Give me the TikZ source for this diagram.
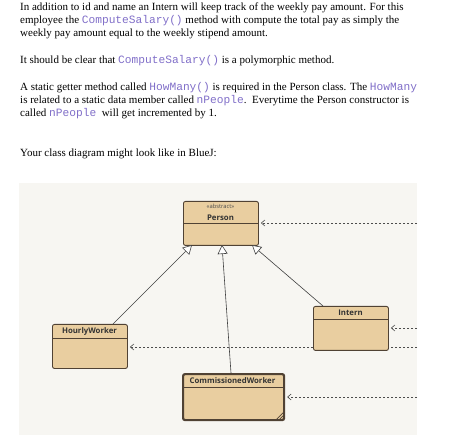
\documentclass[tikz,border=0pt]{standalone}
\usepackage{fontspec}
\setmainfont{Liberation Serif}
\newfontfamily\monof{Liberation Mono}
\newfontfamily\boxf{Open Sans}
\usetikzlibrary{arrows.meta,backgrounds,calc}
\definecolor{codecol}{RGB}{128,110,200}
\definecolor{panelcol}{RGB}{247,246,242}
\definecolor{boxfill}{RGB}{233,206,160}
\definecolor{boxline}{RGB}{80,66,52}
\newcommand{\cd}[1]{{\monof\fontsize{11.2}{12}\selectfont\color{codecol}#1}}
\tikzset{
  para/.style={anchor=base west, inner sep=0pt, font=\fontsize{11}{13}\selectfont},
  cls/.style={draw=boxline, line width=0.9pt, fill=boxfill, rounded corners=2pt, anchor=north west, inner sep=0pt},
  clstitle/.style={inner sep=0pt, font=\boxf\bfseries\fontsize{7.8}{9}\selectfont, text=black!80},
  stereo/.style={inner sep=0pt, font=\boxf\fontsize{5.8}{6}\selectfont, text=black!70},
  divider/.style={draw=boxline, line width=0.9pt},
  dep/.style={draw=black!70, line width=0.6pt, dash pattern=on 2.5pt off 1.5pt, -{Straight Barb[length=3.5pt,width=6pt]}, shorten >=2pt},
  inh/.style={draw=black!75, line width=0.6pt, -{Triangle[length=9pt,width=10pt,fill=white,line width=0.6pt]}}
}
\begin{document}
\begin{tikzpicture}[x=1pt,y=-1pt]
\useasboundingbox (0,0) rectangle (474,438);
% text
\node[para] (t1) at (20,11) {In addition to id and name an Intern will keep track of the weekly pay amount. For this};
\node[para] (t2) at (20,24) {employee the \cd{ComputeSalary()} method with compute the total pay as simply the};
\node[para] (t3) at (20,37) {weekly pay amount equal to the weekly stipend amount.};
\node[para] (t4) at (20,64) {It should be clear that \cd{ComputeSalary()} is a polymorphic method.};
\node[para] (t5) at (20,91) {A static getter method called \cd{HowMany()} is required in the Person class. The \cd{HowMany}};
\node[para] (t6) at (20,104) {is related to a static data member called \cd{nPeople}.\ \ Everytime the Person constructor is};
\node[para] (t7) at (20,117) {called \cd{nPeople}\ \ will get incremented by 1.};
\node[para] (t8) at (20,157) {Your class diagram might look like in BlueJ:};
% classes
\node[cls, minimum width=75pt, minimum height=44pt] (person) at (183,201) {};
\node[cls, minimum width=75pt, minimum height=44pt] (intern) at (313,306) {};
\node[cls, minimum width=75pt, minimum height=44pt] (hw) at (52,324) {};
\node[cls, line width=2.2pt, minimum width=101pt, minimum height=46pt] (cw) at (182,373) {};
\draw[divider] (person.west |- 0,223) -- (person.east |- 0,223);
\draw[divider] (intern.west |- 0,319) -- (intern.east |- 0,319);
\draw[divider] (hw.west |- 0,338) -- (hw.east |- 0,338);
\draw[divider] (cw.west |- 0,387) -- (cw.east |- 0,387);
\node[stereo] (pst) at (220.5,206.5) {«abstract»};
\node[clstitle] (pt) at (220.5,217.5) {Person};
\node[clstitle] (it) at (350.5,313) {Intern};
\node[clstitle] (ht) at (89.5,331) {HourlyWorker};
\node[clstitle] (ct) at (232.5,381) {CommissionedWorker};
% corner hatch
\draw[boxline, line width=0.6pt] ($(cw.south east)+(-9,-1.5)$) -- ($(cw.south east)+(-1.5,-9)$);
\draw[boxline, line width=0.6pt] ($(cw.south east)+(-6,-1.5)$) -- ($(cw.south east)+(-1.5,-6)$);
% inheritance
\coordinate (pl) at (192,245);
\coordinate (pm) at (222,245);
\coordinate (pr) at (252,245);
\draw[inh] (hw.north -| 113,0) -- (pl);
\draw[inh] (cw.north -| 231,0) -- (pm);
\draw[inh] (intern.north -| 323,0) -- (pr);
% background: panel + dependencies
\begin{scope}[on background layer]
\fill[panelcol] (19,183) rectangle (417,435);
\coordinate (d1) at (417,223);
\coordinate (d2) at (417,328);
\coordinate (d3) at (417,347);
\coordinate (d4) at (417,397);
\draw[dep] (d1) -- (person.east |- d1);
\draw[dep] (d2) -- (intern.east |- d2);
\draw[dep] (d3) -- (hw.east |- d3);
\draw[dep] (d4) -- (cw.east |- d4);
\end{scope}
\end{tikzpicture}
\end{document}
